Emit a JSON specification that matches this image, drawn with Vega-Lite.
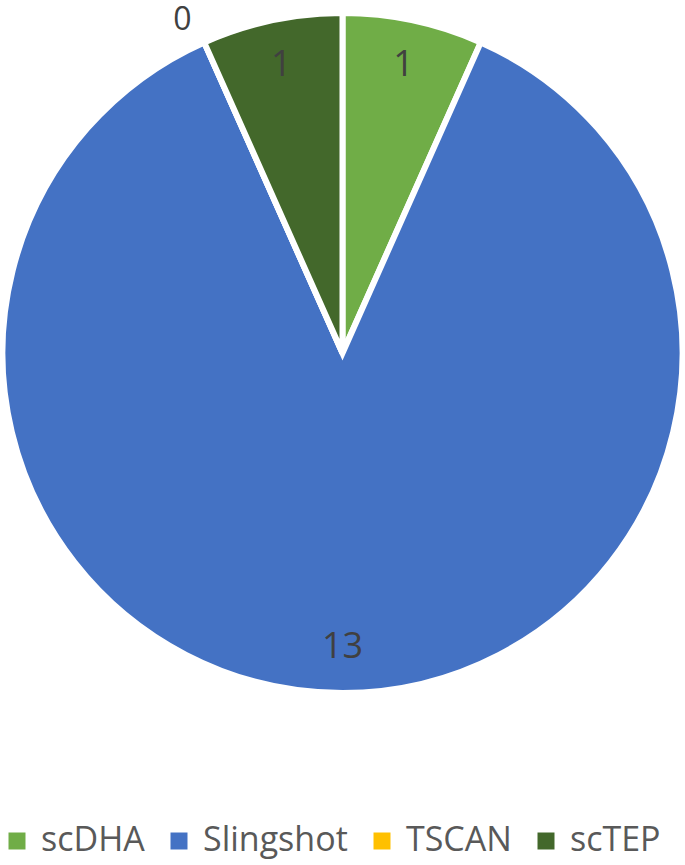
{
  "$schema": "https://vega.github.io/schema/vega-lite/v6.json",
  "width": 685,
  "height": 674,
  "autosize": {"type": "none"},
  "padding": {"top": 16, "bottom": 175, "left": 0, "right": 0},
  "background": "white",
  "data": {"values": [
    {"method": "scDHA", "value": 1, "ord": 1},
    {"method": "Slingshot", "value": 13, "ord": 2},
    {"method": "TSCAN", "value": 0, "ord": 3},
    {"method": "scTEP", "value": 1, "ord": 4}
  ]},
  "encoding": {
    "theta": {"field": "value", "type": "quantitative", "stack": true},
    "order": {"field": "ord", "type": "quantitative"}
  },
  "layer": [
    {
      "mark": {"type": "arc", "radius": 340, "stroke": "white", "strokeWidth": 6},
      "encoding": {
        "color": {
          "field": "method", "type": "nominal",
          "scale": {"domain": ["scDHA", "Slingshot", "TSCAN", "scTEP"], "range": ["#70AD47", "#4472C4", "#FFC000", "#43682B"]},
          "legend": {
            "title": null, "orient": "bottom", "direction": "horizontal",
            "offset": 134, "padding": 0, "labelFontSize": 34, "labelFont": "Open Sans", "labelColor": "#595959",
            "symbolType": "square", "symbolSize": 289, "symbolStrokeWidth": 0,
            "columnPadding": 17, "labelOffset": 7
          }
        }
      }
    },
    {
      "mark": {"type": "text", "radius": 294, "fontSize": 36, "font": "Open Sans", "color": "#404040"},
      "encoding": {
        "text": {"condition": {"test": "datum.value > 0", "field": "value", "type": "quantitative"}, "value": ""}
      }
    },
    {
      "mark": {"type": "text", "radius": 364, "dx": -12, "fontSize": 32, "font": "Open Sans", "color": "#404040"},
      "encoding": {
        "text": {"condition": {"test": "datum.value == 0", "field": "value", "type": "quantitative"}, "value": ""}
      }
    }
  ],
  "config": {"view": {"stroke": null}}
}
